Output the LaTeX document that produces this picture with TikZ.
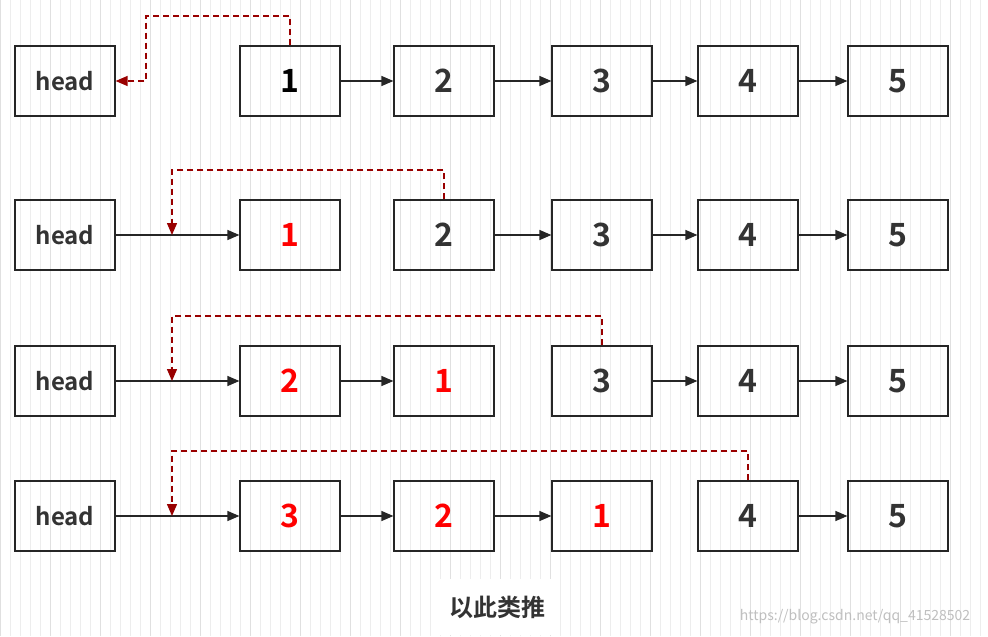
\documentclass[tikz,border=0pt]{standalone}
\usepackage{fontspec}
\setmainfont{Noto Sans CJK SC}[BoldFont={Noto Sans CJK SC Bold}]
\usetikzlibrary{arrows.meta}
\definecolor{txt}{HTML}{333333}
\definecolor{dred}{HTML}{990000}
\tikzset{
 box/.style={draw=black!85,line width=0.6pt,minimum width=50pt,minimum height=35pt,inner sep=0pt,font=\bfseries\fontsize{16}{16}\selectfont,text=txt},
 hbox/.style={box,font=\bfseries\fontsize{12}{12}\selectfont},
 redt/.style={text=red},
 link/.style={draw=black!85,line width=0.6pt,-{Triangle[length=6pt,width=5pt]}},
 back/.style={draw=dred,line width=0.7pt,dashed,dash pattern=on 3pt off 2pt,-{Triangle[length=6pt,width=5pt]}}
}
\begin{document}
\begin{tikzpicture}[x=0.5pt,y=-0.5pt]
\useasboundingbox (0,0) rectangle (988,636);
\fill[white] (0,0) rectangle (988,636);
\draw[black!7,line width=0.3pt] (0,0) grid[step=10] (988,636);
\draw[black!12,line width=0.4pt] (0,0) grid[step=50] (988,636);
% row 1
\node[hbox] (h1) at (65,81) {head};
\node[box,text=black] (a1) at (290,81) {1};
\node[box] (b1) at (444,81) {2};
\node[box] (c1) at (602,81) {3};
\node[box] (d1) at (748,81) {4};
\node[box] (e1) at (898,81) {5};
\draw[link] (a1)--(b1); \draw[link] (b1)--(c1); \draw[link] (c1)--(d1); \draw[link] (d1)--(e1);
\draw[back] (a1.north) |- (146,16) |- (h1.east);
% row 2
\node[hbox] (h2) at (65,235) {head};
\node[box,redt] (a2) at (290,235) {1};
\node[box] (b2) at (444,235) {2};
\node[box] (c2) at (602,235) {3};
\node[box] (d2) at (748,235) {4};
\node[box] (e2) at (898,235) {5};
\coordinate (m2) at (172,235);
\draw[link] (h2)--(a2); \draw[link] (b2)--(c2); \draw[link] (c2)--(d2); \draw[link] (d2)--(e2);
\draw[back] (b2.north) |- (172,170) -- (m2);
% row 3
\node[hbox] (h3) at (65,381) {head};
\node[box,redt] (a3) at (290,381) {2};
\node[box,redt] (b3) at (444,381) {1};
\node[box] (c3) at (602,381) {3};
\node[box] (d3) at (748,381) {4};
\node[box] (e3) at (898,381) {5};
\coordinate (m3) at (172,381);
\draw[link] (h3)--(a3); \draw[link] (a3)--(b3); \draw[link] (c3)--(d3); \draw[link] (d3)--(e3);
\draw[back] (c3.north) |- (172,316) -- (m3);
% row 4
\node[hbox] (h4) at (65,516) {head};
\node[box,redt] (a4) at (290,516) {3};
\node[box,redt] (b4) at (444,516) {2};
\node[box,redt] (c4) at (602,516) {1};
\node[box] (d4) at (748,516) {4};
\node[box] (e4) at (898,516) {5};
\coordinate (m4) at (172,516);
\draw[link] (h4)--(a4); \draw[link] (a4)--(b4); \draw[link] (b4)--(c4); \draw[link] (d4)--(e4);
\draw[back] (d4.north) |- (172,451) -- (m4);
\node[fill=white,text=txt,font=\bfseries\fontsize{12}{12}\selectfont,minimum width=60pt,minimum height=28pt] (t) at (497,607) {以此类推};
\node[text=black!25,font=\fontsize{7}{7}\selectfont] (w) at (855,617) {https://blog.csdn.net/qq\_41528502};
\end{tikzpicture}
\end{document}
